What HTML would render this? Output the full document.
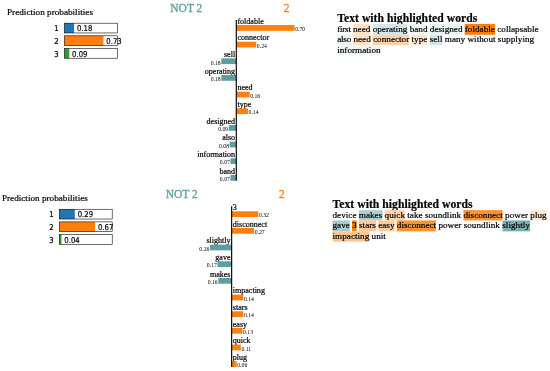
<!DOCTYPE html><html><head><meta charset="utf-8"><title>LIME explanations</title><style>

html,body{margin:0;padding:0;background:#fff;}
body{width:550px;height:371px;overflow:hidden;position:relative;}
svg.main{position:absolute;left:0;top:0;}
.wrap{position:absolute;left:0;top:0;width:550px;height:371px;overflow:hidden}
.ttl{font-family:"Liberation Serif",serif;font-size:16px;fill:#000}
.pt{font-family:"DejaVu Sans",sans-serif;font-size:14px;fill:#000}
.ct{font-family:"Liberation Serif",serif;font-size:20px;text-anchor:middle;fill:currentColor;stroke-width:0.55px}
.fl{font-family:"Liberation Serif",serif;font-size:14px;fill:#000}
.fn{font-family:"Liberation Serif",serif;font-size:10px;fill:#000;dominant-baseline:middle;stroke-width:0}
text{stroke:currentColor;stroke-width:0.35px;paint-order:stroke}
.td{position:absolute;left:0;top:0;width:370px;height:120px;transform-origin:0 0;font-family:"Liberation Serif",serif;color:#000;-webkit-text-stroke:0.35px #000}
.h3{position:absolute;left:0;top:calc(15.65px + var(--hy,0px));font-weight:bold;font-size:20.3px;line-height:20px;letter-spacing:0.07px;white-space:nowrap}
.body{position:absolute;left:0;top:calc(35.8px + var(--by,0px));font-size:16px;line-height:18.4px;white-space:nowrap}
.hl{background-image:linear-gradient(var(--c),var(--c));background-repeat:no-repeat;background-size:100% 19.1px;background-position:0 0.1px;padding-bottom:1.5px}

</style></head><body><div class="wrap">
<svg class="main" width="550" height="371" viewBox="0 0 550 371">
<g transform="translate(-4.5 3.08) scale(0.5745)">
<text x="20" y="20.45" class="ttl">Prediction probabilities</text>
<rect x="120" y="35" width="16.74" height="17" fill="#1f77b4"/>
<rect x="120" y="35" width="92" height="17" fill="none" stroke="#000" stroke-width="1"/>
<text transform="translate(141.74 49) scale(0.86 1)" class="pt">0.18</text>
<text transform="translate(110 49) scale(0.86 1)" class="pt" text-anchor="end">1</text>
<rect x="120" y="57" width="67.89" height="17" fill="#ff7f0e"/>
<rect x="120" y="57" width="92" height="17" fill="none" stroke="#000" stroke-width="1"/>
<text transform="translate(192.89 71) scale(0.86 1)" class="pt">0.73</text>
<text transform="translate(110 71) scale(0.86 1)" class="pt" text-anchor="end">2</text>
<rect x="120" y="79" width="8.37" height="17" fill="#2ca02c"/>
<rect x="120" y="79" width="92" height="17" fill="none" stroke="#000" stroke-width="1"/>
<text transform="translate(133.37 93) scale(0.86 1)" class="pt">0.09</text>
<text transform="translate(110 93) scale(0.86 1)" class="pt" text-anchor="end">3</text>
</g>
<g transform="translate(135.76 2.65) scale(0.5745)">
<text x="88" y="16" class="ct" style="color:#5F9EA0">NOT 2</text>
<text x="262.5" y="16" class="ct" style="color:#ff7f0e">2</text>
<text x="177" y="36.8" class="fl">foldable</text>
<rect x="175" y="39" width="101.50" height="10" fill="#ff7f0e"/>
<text x="277.50" y="47.4" class="fn">0.70</text>
<text x="177" y="65.8" class="fl">connector</text>
<rect x="175" y="68" width="34.80" height="10" fill="#ff7f0e"/>
<text x="210.80" y="76.4" class="fn">0.24</text>
<text x="173" y="94.8" class="fl" text-anchor="end">sell</text>
<rect x="148.90" y="97" width="26.10" height="10" fill="#5F9EA0"/>
<text x="147.90" y="105.4" class="fn" text-anchor="end">0.18</text>
<text x="173" y="123.8" class="fl" text-anchor="end">operating</text>
<rect x="148.90" y="126" width="26.10" height="10" fill="#5F9EA0"/>
<text x="147.90" y="134.4" class="fn" text-anchor="end">0.18</text>
<text x="177" y="152.8" class="fl">need</text>
<rect x="175" y="155" width="23.20" height="10" fill="#ff7f0e"/>
<text x="199.20" y="163.4" class="fn">0.16</text>
<text x="177" y="181.8" class="fl">type</text>
<rect x="175" y="184" width="20.30" height="10" fill="#ff7f0e"/>
<text x="196.30" y="192.4" class="fn">0.14</text>
<text x="173" y="210.8" class="fl" text-anchor="end">designed</text>
<rect x="161.95" y="213" width="13.05" height="10" fill="#5F9EA0"/>
<text x="160.95" y="221.4" class="fn" text-anchor="end">0.09</text>
<text x="173" y="239.8" class="fl" text-anchor="end">also</text>
<rect x="163.40" y="242" width="11.60" height="10" fill="#5F9EA0"/>
<text x="162.40" y="250.4" class="fn" text-anchor="end">0.08</text>
<text x="173" y="268.8" class="fl" text-anchor="end">information</text>
<rect x="164.85" y="271" width="10.15" height="10" fill="#5F9EA0"/>
<text x="163.85" y="279.4" class="fn" text-anchor="end">0.07</text>
<text x="173" y="297.8" class="fl" text-anchor="end">band</text>
<rect x="164.85" y="300" width="10.15" height="10" fill="#5F9EA0"/>
<text x="163.85" y="308.4" class="fn" text-anchor="end">0.07</text>
<line x1="175" x2="175" y1="30" y2="310" stroke="#000" stroke-width="2"/>
</g>
<g transform="translate(-9.6 189.15) scale(0.5745)">
<text x="20" y="20.45" class="ttl">Prediction probabilities</text>
<rect x="120" y="35" width="26.97" height="17" fill="#1f77b4"/>
<rect x="120" y="35" width="92" height="17" fill="none" stroke="#000" stroke-width="1"/>
<text transform="translate(151.97 49) scale(0.86 1)" class="pt">0.29</text>
<text transform="translate(110 49) scale(0.86 1)" class="pt" text-anchor="end">1</text>
<rect x="120" y="57" width="62.31" height="17" fill="#ff7f0e"/>
<rect x="120" y="57" width="92" height="17" fill="none" stroke="#000" stroke-width="1"/>
<text transform="translate(187.31 71) scale(0.86 1)" class="pt">0.67</text>
<text transform="translate(110 71) scale(0.86 1)" class="pt" text-anchor="end">2</text>
<rect x="120" y="79" width="3.72" height="17" fill="#2ca02c"/>
<rect x="120" y="79" width="92" height="17" fill="none" stroke="#000" stroke-width="1"/>
<text transform="translate(128.72 93) scale(0.86 1)" class="pt">0.04</text>
<text transform="translate(110 93) scale(0.86 1)" class="pt" text-anchor="end">3</text>
</g>
<g transform="translate(131.11 188.9) scale(0.5745)">
<text x="88" y="16" class="ct" style="color:#5F9EA0">NOT 2</text>
<text x="262.5" y="16" class="ct" style="color:#ff7f0e">2</text>
<text x="177" y="36.8" class="fl">3</text>
<rect x="175" y="39" width="46.40" height="10" fill="#ff7f0e"/>
<text x="222.40" y="47.4" class="fn">0.32</text>
<text x="177" y="65.8" class="fl">disconnect</text>
<rect x="175" y="68" width="39.15" height="10" fill="#ff7f0e"/>
<text x="215.15" y="76.4" class="fn">0.27</text>
<text x="173" y="94.8" class="fl" text-anchor="end">slightly</text>
<rect x="137.30" y="97" width="37.70" height="10" fill="#5F9EA0"/>
<text x="136.30" y="105.4" class="fn" text-anchor="end">0.26</text>
<text x="173" y="123.8" class="fl" text-anchor="end">gave</text>
<rect x="150.35" y="126" width="24.65" height="10" fill="#5F9EA0"/>
<text x="149.35" y="134.4" class="fn" text-anchor="end">0.17</text>
<text x="173" y="152.8" class="fl" text-anchor="end">makes</text>
<rect x="151.80" y="155" width="23.20" height="10" fill="#5F9EA0"/>
<text x="150.80" y="163.4" class="fn" text-anchor="end">0.16</text>
<text x="177" y="181.8" class="fl">impacting</text>
<rect x="175" y="184" width="20.30" height="10" fill="#ff7f0e"/>
<text x="196.30" y="192.4" class="fn">0.14</text>
<text x="177" y="210.8" class="fl">stars</text>
<rect x="175" y="213" width="20.30" height="10" fill="#ff7f0e"/>
<text x="196.30" y="221.4" class="fn">0.14</text>
<text x="177" y="239.8" class="fl">easy</text>
<rect x="175" y="242" width="18.85" height="10" fill="#ff7f0e"/>
<text x="194.85" y="250.4" class="fn">0.13</text>
<text x="177" y="268.8" class="fl">quick</text>
<rect x="175" y="271" width="15.95" height="10" fill="#ff7f0e"/>
<text x="191.95" y="279.4" class="fn">0.11</text>
<text x="177" y="297.8" class="fl">plug</text>
<rect x="175" y="300" width="8.70" height="10" fill="#ff7f0e"/>
<text x="184.70" y="308.4" class="fn">0.06</text>
<line x1="175" x2="175" y1="30" y2="310" stroke="#000" stroke-width="2"/>
</g>
</svg>
<div class="td" style="transform:translate(337.19px,2.65px) scale(0.5745);--by:1.2px;--hy:0.0px"><div class="h3">Text with highlighted words</div><div class="body">
<span style="letter-spacing:-0.45px">first</span> <span class="hl" style="--c:rgb(255,226,200)">need</span> <span class="hl" style="--c:rgb(214,230,231)">operating</span> <span class="hl" style="--c:rgb(239,245,246)">band</span> <span class="hl" style="--c:rgb(234,243,243)">designed</span> <span class="hl" style="--c:rgb(255,127,14)">foldable</span> collapsable<br><span class="hl" style="--c:rgb(237,244,244);letter-spacing:-0.4px">also</span> <span class="hl" style="--c:rgb(255,226,200)">need</span> <span class="hl" style="--c:rgb(255,211,172)">connector</span> <span class="hl" style="--c:rgb(255,229,207)">type</span> <span class="hl" style="--c:rgb(214,230,231)">sell</span> many without supplying<br><span class="hl" style="--c:rgb(239,245,246)">information</span>
</div></div>
<div class="td" style="transform:translate(332.5px,188.85px) scale(0.5745);--by:0.8px;--hy:1.2px"><div class="h3">Text with highlighted words</div><div class="body">
device <span class="hl" style="--c:rgb(175,206,208)">makes</span> <span class="hl" style="--c:rgb(255,211,172)">quick</span> take soundlink <span class="hl" style="--c:rgb(255,147,52)">disconnect</span> power <span class="hl" style="--c:rgb(255,231,210)">plug</span><br><span class="hl" style="--c:rgb(170,203,205)">gave</span> <span class="hl" style="--c:rgb(255,127,14)">3</span> <span class="hl" style="--c:rgb(255,199,150)">stars</span> <span class="hl" style="--c:rgb(255,203,157)">easy</span> <span class="hl" style="--c:rgb(255,147,52)">disconnect</span> power soundlink <span class="hl" style="--c:rgb(125,176,178)">slightly</span><br><span class="hl" style="--c:rgb(255,199,150)">impacting</span> unit
</div></div>
</div></body></html>
